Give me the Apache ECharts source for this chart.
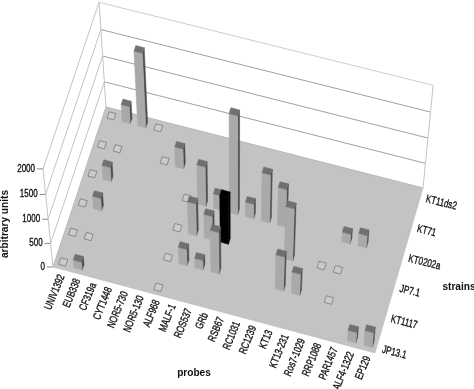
<!DOCTYPE html>
<html><head><meta charset="utf-8">
<style>html,body{margin:0;padding:0;background:#fff}#c{width:474px;height:389px}</style>
<script src="https://cdn.jsdelivr.net/npm/echarts@6/dist/echarts.min.js"></script>
</head><body><div id="c"></div>
<script>
const probes=['UNIV1392','EUB338','CF319a','CYT1448','NOR5-730','NOR5-130','ALF968','MALF-1','ROS537','GRb','RSB67','RC1031','RC1239','KT13','KT13-231','Ros7-1029','RRP1088','PAR1457','ALF4-1322','EP129'];
const strains=['JP13.1','KT1117','JP7.1','KT0202a','KT71','KT11ds2'];
const ticks=[0,500,1000,1500,2000];
const n=null;
const JP13_1 =[0,170,n,n,n,n,0,n,n,n,n,n,n,n,n,n,n,n,230,320];
const KT1117 =[0,0,n,n,n,n,0,340,200,870,n,n,n,720,450,n,0,n,n,n];
const JP7_1  =[0,260,n,n,n,n,0,660,490,960,n,n,n,1080,n,0,0,n,n,n];
const KT0202a=[0,290,n,n,n,n,0,800,300,1960,300,980,770,n,n,n,200,260,n,n];
const KT71   =[0,0,n,n,0,400,n,n,n,n,n,n,n,n,n,n,n,n,n,n];
const KT11ds2=[0,340,1450,0,n,n,n,n,n,n,n,n,n,n,n,n,n,n,n,n];
const rows=[JP13_1,KT1117,JP7_1,KT0202a,KT71,KT11ds2];
const blackCell=[9,2];

// perspective camera: floor corners, vertical vanishing point, height factor
const P0=[53,267],P1=[375,353],P2=[423,188],P3=[106,107],V=[236,2070],HK=-0.0516;
const dx1=P1[0]-P2[0],dx2=P3[0]-P2[0],sx=P0[0]-P1[0]+P2[0]-P3[0];
const dy1=P1[1]-P2[1],dy2=P3[1]-P2[1],sy=P0[1]-P1[1]+P2[1]-P3[1];
const den=dx1*dy2-dx2*dy1;
const G=(sx*dy2-dx2*sy)/den,H=(dx1*sy-sx*dy1)/den;
const A=P1[0]-P0[0]+G*P1[0],B=P3[0]-P0[0]+H*P3[0],D=P1[1]-P0[1]+G*P1[1],E=P3[1]-P0[1]+H*P3[1];
function project(u,v,val){
  const t=HK*echarts.number.linearMap(val,[0,2000],[0,1]);
  const w=G*u+H*v+1+t;
  return [(A*u+B*v+P0[0]+t*V[0])/w,(D*u+E*v+P0[1]+t*V[1])/w];
}
function proj3(params,api,i,r,val){
  const c=api.coord([i,r]),s=params.coordSys;
  return project((c[0]-s.x)/s.width,1-(c[1]-s.y)/s.height,val);
}
const poly=(pts,fill,stroke,lw)=>({type:'polygon',shape:{points:pts},style:{fill:fill,stroke:stroke||fill,lineWidth:lw==null?0.5:lw}});
const line=(a,b,c,lw)=>({type:'line',shape:{x1:a[0],y1:a[1],x2:b[0],y2:b[1]},style:{stroke:c,lineWidth:lw||1,fill:null}});
const text=(s,x,y,rot,align,font,fill,sc)=>({type:'text',x:x,y:y,rotation:rot,scaleX:sc||1,style:{text:s,font:font,fill:fill||'#111',stroke:fill||'#111',lineWidth:0.35,align:align,textAlign:align,verticalAlign:'middle',textVerticalAlign:'middle'}});
const XMIN=-0.5,XMAX=19.5,YMIN=-0.24,YMAX=5.24;
const FONT='11px "Liberation Sans"',BOLD='bold 11px "Liberation Sans"';
const RAD=Math.PI/180,SQUEEZE=0.73;

const bars=[];
for(let r=rows.length-1;r>=0;r--)rows[r].forEach((v,i)=>{if(v!==null)bars.push([i,r,v]);});

function renderFloor(params,api){
  const a=[XMIN,YMIN],b=[XMAX,YMIN],c=[XMAX,YMAX],d=[XMIN,YMAX];
  return poly([a,b,c,d].map(p=>proj3(params,api,p[0],p[1],0)),'#c3c3c3','#b5b5b5',0.5);
}
function renderWall(params,api){
  const v=api.value(0),kids=[];
  const col=v===2000?'#cfcfcf':(v===0?'#bdbdbd':'#a0a0a0');
  const f=proj3(params,api,XMIN,YMIN,v),bl=proj3(params,api,XMIN,YMAX,v),br=proj3(params,api,XMAX,YMAX,v);
  kids.push(line(f,bl,'#c4c4c4'));
  kids.push(line(bl,br,col));
  kids.push(line([f[0]-6,f[1]],f,'#888'));
  kids.push(text(String(v),f[0]-8,f[1],0,'right',FONT,'#111',SQUEEZE));
  if(v===2000){
    [[XMIN,YMIN],[XMIN,YMAX],[XMAX,YMAX]].forEach(p=>{
      kids.push(line(proj3(params,api,p[0],p[1],0),proj3(params,api,p[0],p[1],2000),'#c4c4c4'));
    });
  }
  return {type:'group',children:kids};
}
const DU=0.26,DR=0.095,SQU=0.22,SQR=0.11;
function renderBar(params,api){
  const i=api.value(0),r=api.value(1),v=api.value(2);
  const pt=(a,b,h,u,w)=>proj3(params,api,i+a*(u||DU),r+b*(w||DR),h);
  if(v===0){
    return poly([pt(-1,-1,0,SQU,SQR),pt(1,-1,0,SQU,SQR),pt(1,1,0,SQU,SQR),pt(-1,1,0,SQU,SQR)],'#cbcbcb','#707070',0.7);
  }
  const black=i===blackCell[0]&&r===blackCell[1];
  const front=black?'#000':'#a9a9a9',side=black?'#000':'#4c4c4c',top=black?'#000':'#707070';
  return {type:'group',children:[
    poly([pt(1,-1,0),pt(1,1,0),pt(1,1,v),pt(1,-1,v)],side),
    poly([pt(-1,-1,0),pt(1,-1,0),pt(1,-1,v),pt(-1,-1,v)],front),
    poly([pt(-1,-1,v),pt(1,-1,v),pt(1,1,v),pt(-1,1,v)],top)
  ]};
}
function renderProbe(params,api){
  const i=api.value(0),p=proj3(params,api,i,YMIN,0);
  return text(probes[i],p[0]+1,p[1]+6,68*RAD,'right',FONT,'#111',SQUEEZE);
}
function renderStrain(params,api){
  const r=api.value(0),p=proj3(params,api,XMAX,r,0);
  return text(strains[r],p[0]+5,p[1]+4,-14*RAD,'left',FONT,'#111',SQUEEZE);
}
const chart=echarts.init(document.getElementById('c'),null,{renderer:'canvas'});
const base={type:'custom',coordinateSystem:'cartesian2d',silent:true,animation:false};
chart.setOption({
  animation:false,
  backgroundColor:'#fff',
  grid:{left:0,top:0,width:474,height:389},
  xAxis:{type:'value',min:XMIN,max:XMAX,show:false},
  yAxis:{type:'value',min:YMIN,max:YMAX,show:false},
  series:[
    {...base,data:ticks.map(t=>[t]),renderItem:renderWall,encode:{x:-1,y:-1}},
    {...base,data:[[0]],renderItem:renderFloor,encode:{x:-1,y:-1}},
    {...base,data:bars,renderItem:renderBar,encode:{x:0,y:1}},
    {...base,data:probes.map((_,i)=>[i]),renderItem:renderProbe,encode:{x:-1,y:-1}},
    {...base,data:strains.map((_,i)=>[i]),renderItem:renderStrain,encode:{x:-1,y:-1}}
  ],
  graphic:[
    {type:'text',x:5,y:224,rotation:90*RAD,scaleX:0.92,style:{text:'arbitrary units',font:BOLD,fill:'#111',align:'center',verticalAlign:'middle'}},
    {type:'text',x:194,y:373,scaleX:0.92,style:{text:'probes',font:BOLD,fill:'#111',align:'center',verticalAlign:'middle'}},
    {type:'text',x:459,y:287,scaleX:0.92,style:{text:'strains',font:BOLD,fill:'#111',align:'center',verticalAlign:'middle'}}
  ]
});
</script></body></html>
